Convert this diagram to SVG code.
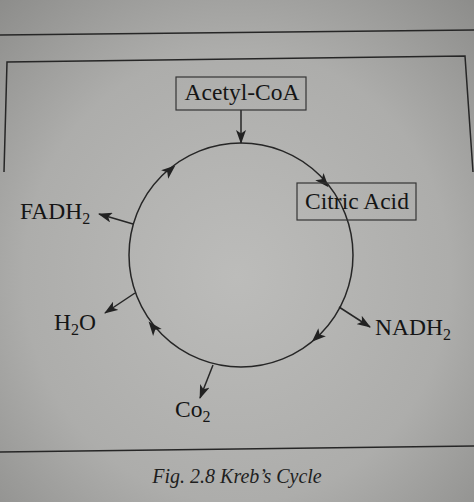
<svg xmlns="http://www.w3.org/2000/svg" width="474" height="502" viewBox="0 0 474 502">
<defs>
<radialGradient id="bg" cx="0.5" cy="0.55" r="0.75">
<stop offset="0" stop-color="#bcbcba"/>
<stop offset="0.6" stop-color="#adadab"/>
<stop offset="1" stop-color="#8c8c8a"/>
</radialGradient>
<marker id="ah" viewBox="0 0 14 10" refX="13" refY="5" markerWidth="14" markerHeight="10" markerUnits="userSpaceOnUse" orient="auto">
<path d="M0,0 L14,5 L0,10 L3.5,5 Z" fill="#222"/>
</marker>
<path id="cah" d="M7,0 L-7,-5.5 L-3.5,0 L-7,5.5 Z" fill="#222"/>
</defs>
<style>
.ln{stroke:#262626;stroke-width:1.5;fill:none}
.tx{font-family:"Liberation Serif","Times New Roman",serif;font-size:23.5px;fill:#151515}
.sb{font-size:16px}
.cap{font-family:"Liberation Serif","Times New Roman",serif;font-style:italic;font-size:20px;fill:#1e1e1e}
.bx{fill:none;stroke:#353535;stroke-width:1.2}
</style>
<rect width="474" height="502" fill="url(#bg)"/>
<g id="page-lines">
<line class="ln" x1="0" y1="35" x2="474" y2="30"/>
<polyline class="ln" points="4,172 7,62 465,56 473,172"/>
<line class="ln" x1="0" y1="452" x2="474" y2="446"/>
</g>
<g id="connectors">
<circle class="ln" cx="241" cy="255" r="112"/>
<use href="#cah" transform="translate(324,182) rotate(49)"/>
<use href="#cah" transform="translate(170,170) rotate(-40)"/>
<use href="#cah" transform="translate(317,337) rotate(137)"/>
<use href="#cah" transform="translate(153,327) rotate(-129)"/>
<line class="ln" x1="241" y1="110" x2="241" y2="143" marker-end="url(#ah)"/>
<line class="ln" x1="133" y1="224" x2="99" y2="214" marker-end="url(#ah)"/>
<line class="ln" x1="135" y1="293" x2="105" y2="313" marker-end="url(#ah)"/>
<line class="ln" x1="339" y1="307" x2="370" y2="327" marker-end="url(#ah)"/>
<line class="ln" x1="213" y1="365" x2="200" y2="398" marker-end="url(#ah)"/>
</g>
<g id="acetyl-coa">
<rect class="bx" x="176" y="77" width="130" height="33"/>
<text class="tx" x="242" y="100" text-anchor="middle">Acetyl-CoA</text>
</g>
<g id="citric-acid">
<rect class="bx" x="297" y="183" width="119" height="37"/>
<text class="tx" x="357" y="209" text-anchor="middle">Citric Acid</text>
</g>
<g id="fadh2">
<text class="tx" x="20" y="219">FADH<tspan class="sb" dy="5">2</tspan></text>
</g>
<g id="h2o">
<text class="tx" x="54" y="330">H<tspan class="sb" dy="5">2</tspan><tspan dy="-5">O</tspan></text>
</g>
<g id="nadh2">
<text class="tx" x="375" y="335">NADH<tspan class="sb" dy="5">2</tspan></text>
</g>
<g id="co2">
<text class="tx" x="175" y="417">Co<tspan class="sb" dy="5">2</tspan></text>
</g>
<g id="caption">
<text class="cap" x="237" y="483" text-anchor="middle">Fig. 2.8 Kreb’s Cycle</text>
</g>
</svg>
